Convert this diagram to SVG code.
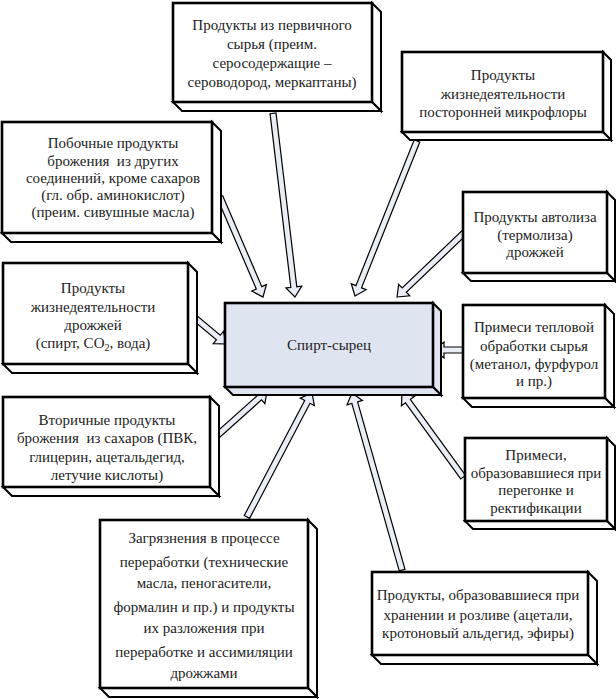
<svg xmlns="http://www.w3.org/2000/svg" width="616" height="699" viewBox="0 0 616 699">
<style>
.f{fill:#fff;stroke:#000;stroke-width:2.6}
.s{fill:#fff;stroke:#000;stroke-width:2;stroke-linejoin:miter}
.c .f,.c .s{fill:#dfe5f0}
text{font-family:"Liberation Serif","Times New Roman",serif;font-size:15px;fill:#222;text-anchor:middle}
.a{fill:#e8edf6;stroke:#000;stroke-width:1.2;stroke-linejoin:miter}
</style>
<rect width="616" height="699" fill="#fff"/>
<g id="connectors">
<path class="a" transform="translate(263,297) rotate(66.73)" d="M0,0 L-10,-8 L-10,-3 L-109,-3 L-109,3 L-10,3 L-10,8 Z"/>
<path class="a" transform="translate(295,297) rotate(83.18)" d="M0,0 L-10,-8 L-10,-3 L-185,-3 L-185,3 L-10,3 L-10,8 Z"/>
<path class="a" transform="translate(355,296) rotate(111.8)" d="M0,0 L-10,-8 L-10,-3 L-167,-3 L-167,3 L-10,3 L-10,8 Z"/>
<path class="a" transform="translate(397,297) rotate(136.3)" d="M0,0 L-10,-8 L-10,-3 L-94,-3 L-94,3 L-10,3 L-10,8 Z"/>
<path class="a" transform="translate(226,344) rotate(39.96)" d="M0,0 L-10,-8 L-10,-3 L-48,-3 L-48,3 L-10,3 L-10,8 Z"/>
<path class="a" transform="translate(434,350) rotate(180)" d="M0,0 L-10,-8 L-10,-3 L-29,-3 L-29,3 L-10,3 L-10,8 Z"/>
<path class="a" transform="translate(267,391) rotate(-41.8)" d="M0,0 L-10,-8 L-10,-3 L-76,-3 L-76,3 L-10,3 L-10,8 Z"/>
<path class="a" transform="translate(312,393) rotate(-62.3)" d="M0,0 L-10,-8 L-10,-3 L-140,-3 L-140,3 L-10,3 L-10,8 Z"/>
<path class="a" transform="translate(352,393) rotate(-105.8)" d="M0,0 L-10,-8 L-10,-3 L-184,-3 L-184,3 L-10,3 L-10,8 Z"/>
<path class="a" transform="translate(402,393) rotate(-126)" d="M0,0 L-10,-8 L-10,-3 L-104,-3 L-104,3 L-10,3 L-10,8 Z"/>
</g>
<g id="n1">
<path class="s" d="M372,3 L381,12 L381,111 L372,102 Z"/><path class="s" d="M173,102 L372,102 L381,111 L182,111 Z"/>
<rect class="f" x="173" y="3" width="199" height="99"/>
<text x="272" y="30">Продукты из первичного</text><text x="272" y="49">сырья (преим.</text><text x="272" y="68">серосодержащие –</text><text x="272" y="87">сероводород, меркаптаны)</text>
</g>
<g id="n2">
<path class="s" d="M603,52 L611,60 L611,140 L603,132 Z"/><path class="s" d="M402,132 L603,132 L611,140 L410,140 Z"/>
<rect class="f" x="402" y="52" width="201" height="80"/>
<text x="503" y="80">Продукты</text><text x="503" y="99">жизнедеятельности</text><text x="503" y="117">посторонней микрофлоры</text>
</g>
<g id="n3">
<path class="s" d="M212,122 L221,131 L221,242 L212,233 Z"/><path class="s" d="M2,233 L212,233 L221,242 L11,242 Z"/>
<rect class="f" x="2" y="122" width="210" height="111"/>
<text x="113" y="148">Побочные продукты</text><text x="113" y="166" xml:space="preserve">брожения  из других</text><text x="113" y="183">соединений, кроме сахаров</text><text x="113" y="200">(гл. обр. аминокислот)</text><text x="113" y="217">(преим. сивушные масла)</text>
</g>
<g id="n4">
<path class="s" d="M188,263 L197,272 L197,373 L188,364 Z"/><path class="s" d="M3,364 L188,364 L197,373 L12,373 Z"/>
<rect class="f" x="3" y="263" width="185" height="101"/>
<text x="93" y="293">Продукты</text><text x="93" y="312">жизнедеятельности</text><text x="93" y="330">дрожжей</text><text x="93" y="348">(спирт, CO<tspan font-size="10" dy="3">2</tspan><tspan dy="-3">, вода)</tspan></text>
</g>
<g id="n5">
<path class="s" d="M210,397 L219,406 L219,496 L210,487 Z"/><path class="s" d="M3,487 L210,487 L219,496 L12,496 Z"/>
<rect class="f" x="3" y="397" width="207" height="90"/>
<text x="107" y="425">Вторичные продукты</text><text x="107" y="443" xml:space="preserve">брожения  из сахаров (ПВК,</text><text x="107" y="462">глицерин, ацетальдегид,</text><text x="107" y="480">летучие кислоты)</text>
</g>
<g id="center" class="c">
<path class="s" d="M433,303 L441,311 L441,395 L433,387 Z"/><path class="s" d="M225,387 L433,387 L441,395 L233,395 Z"/>
<rect class="f" x="225" y="303" width="208" height="84"/>
<text x="329" y="350">Спирт-сырец</text>
</g>
<g id="n6">
<path class="s" d="M607,192 L615,200 L615,281 L607,273 Z"/><path class="s" d="M463,273 L607,273 L615,281 L471,281 Z"/>
<rect class="f" x="463" y="192" width="144" height="81"/>
<text x="535" y="222">Продукты автолиза</text><text x="535" y="240">(термолиза)</text><text x="535" y="257">дрожжей</text>
</g>
<g id="n7">
<path class="s" d="M605,305 L614,314 L614,407 L605,398 Z"/><path class="s" d="M463,398 L605,398 L614,407 L472,407 Z"/>
<rect class="f" x="463" y="305" width="142" height="93"/>
<text x="534" y="332">Примеси тепловой</text><text x="534" y="351">обработки сырья</text><text x="534" y="369">(метанол, фурфурол</text><text x="534" y="386">и пр.)</text>
</g>
<g id="n8">
<path class="s" d="M607,438 L615,446 L615,529 L607,521 Z"/><path class="s" d="M465,521 L607,521 L615,529 L473,529 Z"/>
<rect class="f" x="465" y="438" width="142" height="83"/>
<text x="536" y="460">Примеси,</text><text x="536" y="478" font-size="14">образовавшиеся при</text><text x="536" y="495">перегонке и</text><text x="536" y="513">ректификации</text>
</g>
<g id="n9">
<path class="s" d="M308,520 L317,529 L317,697 L308,688 Z"/><path class="s" d="M100,688 L308,688 L317,697 L109,697 Z"/>
<rect class="f" x="100" y="520" width="208" height="168"/>
<text x="204" y="543">Загрязнения в процессе</text><text x="204" y="567">переработки (технические</text><text x="204" y="588">масла, пеногасители,</text><text x="204" y="612">формалин и пр.) и продукты</text><text x="204" y="633">их разложения при</text><text x="204" y="657">переработке и ассимиляции</text><text x="204" y="678">дрожжами</text>
</g>
<g id="n10">
<path class="s" d="M588,572 L597,581 L597,664 L588,655 Z"/><path class="s" d="M372,655 L588,655 L597,664 L381,664 Z"/>
<rect class="f" x="372" y="572" width="216" height="83"/>
<text x="478" y="600">Продукты, образовавшиеся при</text><text x="478" y="620">хранении и розливе (ацетали,</text><text x="478" y="638">кротоновый альдегид, эфиры)</text>
</g>
</svg>
